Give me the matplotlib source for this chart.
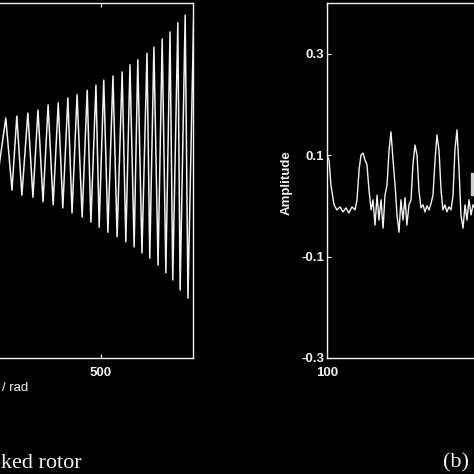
import matplotlib as mpl

mpl.use("Agg")
import matplotlib.pyplot as plt
from matplotlib.patches import Rectangle

mpl.rcParams.update(
    {
        "font.family": ["Liberation Sans", "DejaVu Sans"],
        "font.size": 9.5,
        "axes.linewidth": 1.0,
    }
)

FG = "#f2f2f2"
BG = "black"

# (a) left panel: growing oscillation, peaks and troughs
ANGLE = [271.7, 293, 306.5, 317, 328, 341, 352, 363, 374, 385, 396, 407, 417, 428,
         437, 448, 459, 470, 478, 489, 496, 506, 515, 526, 535, 546, 554, 563, 572,
         580, 589, 600, 606, 615, 624, 633, 641, 650, 656, 667, 672, 683, 689, 702]
SWING = [0.035, 0.173, 0.031, 0.177, 0.021, 0.183, 0.017, 0.189, 0.008, 0.199,
         0.002, 0.203, -0.004, 0.213, -0.014, 0.219, -0.022, 0.228, -0.032, 0.238,
         -0.042, 0.248, -0.052, 0.256, -0.061, 0.264, -0.071, 0.278, -0.081, 0.288,
         -0.093, 0.301, -0.103, 0.313, -0.117, 0.329, -0.132, 0.343, -0.146, 0.361,
         -0.166, 0.376, -0.182, 0.396]
LEFT_XTICKS = [500]

# (b) right panel: amplitude trace
POS = [100.0, 101.2, 102.3, 104.1, 105.8, 107.6, 109.3, 111.1, 112.8, 114.6, 116.3,
       117.5, 118.7, 119.8, 121.0, 122.2, 123.3, 124.5, 125.7, 126.8, 128.0, 129.2,
       130.3, 131.5, 132.7, 133.8, 135.0, 136.2, 137.3, 138.5, 139.7, 140.8, 142.0,
       143.1, 144.3, 145.5, 146.6, 147.8, 149.0, 150.1, 151.3, 152.5, 153.6, 154.8,
       156.0, 157.1, 158.3, 159.5, 160.6, 161.8, 163.0, 164.1, 165.3, 166.5, 167.6,
       168.8, 169.9, 171.1, 172.3, 173.5, 174.6, 175.8, 177.0, 178.1, 179.3, 180.5,
       181.6, 182.8, 184.0, 185.1, 186.9]
AMPLITUDE = [0.100, 0.090, 0.041, 0.002, -0.008, -0.002, -0.012, -0.004, -0.014,
             -0.002, -0.008, 0.012, 0.071, 0.100, 0.104, 0.090, 0.081, 0.031, -0.008,
             0.012, -0.038, 0.021, -0.028, 0.012, -0.044, 0.021, 0.041, 0.110, 0.146,
             0.090, 0.041, -0.018, -0.052, 0.012, -0.028, 0.016, -0.038, 0.002, 0.012,
             0.081, 0.120, 0.100, 0.031, -0.004, 0.002, -0.012, 0.000, -0.008, 0.004,
             0.021, 0.090, 0.140, 0.110, 0.031, -0.008, 0.002, -0.012, -0.002, -0.008,
             0.021, 0.110, 0.150, 0.071, -0.018, -0.044, 0.002, -0.028, 0.012, -0.018,
             0.002, -0.008]
RIGHT_YTICKS = [-0.3, -0.1, 0.1, 0.3]
RIGHT_YLABELS = ["-0.3", "-0.1", "0.1", "0.3"]
RIGHT_XTICKS = [100]


def style_axes(ax):
    ax.set_facecolor(BG)
    for side in ax.spines.values():
        side.set_color(FG)
    ax.tick_params(direction="in", length=3, width=0.8, colors=FG,
                   top=True, right=True, labelsize=9.5)
    for lab in ax.get_xticklabels() + ax.get_yticklabels():
        lab.set_fontweight("bold")


fig = plt.figure(figsize=(4.74, 4.74), dpi=100)
fig.patch.set_facecolor(BG)

W = H = 474.0
bottom = 1 - 358 / H
height = 355 / H

# left panel sticks out past the left edge of the crop
ax1 = fig.add_axes([-129 / W, bottom, 322 / W, height])
ax1.plot(ANGLE, SWING, color=FG, lw=1.1)
ax1.set_xlim(0, 700)
ax1.set_ylim(-0.3, 0.4)
ax1.set_xticks(LEFT_XTICKS)
ax1.set_yticks([])
style_axes(ax1)
ax1.tick_params(axis="x", pad=6.5)

ax2 = fig.add_axes([327 / W, bottom, 343 / W, height])
ax2.plot(POS, AMPLITUDE, color=FG, lw=1.0)
ax2.set_xlim(100, 300)
ax2.set_ylim(-0.3, 0.4)
ax2.set_xticks(RIGHT_XTICKS)
ax2.set_yticks(RIGHT_YTICKS)
ax2.set_yticklabels(RIGHT_YLABELS)
style_axes(ax2)
ax2.tick_params(axis="x", pad=6.5)
ax2.tick_params(axis="y", pad=2)

fig.text(287 / W, 1 - 183 / H, "Amplitude", rotation=90, ha="center", va="center",
         color=FG, fontsize=9.5, fontweight="bold")
fig.text(2 / W, 1 - 388 / H, "/ rad", ha="left", va="center", color=FG, fontsize=9.5)

fig.text(1 / W, 1 - 468 / H, "ked rotor", ha="left", va="baseline", color=FG,
         fontsize=16, family="Liberation Serif")
fig.text(443 / W, 1 - 467 / H, "(b)", ha="left", va="baseline", color=FG,
         fontsize=16, family="Liberation Serif")

# edge of the legend box, cut off by the crop
fig.patches.append(Rectangle((471 / W, 1 - 195 / H), 10 / W, 22 / H,
                             transform=fig.transFigure, color="#d0d0d0"))

fig.savefig("out.png", dpi=100, facecolor=BG)
